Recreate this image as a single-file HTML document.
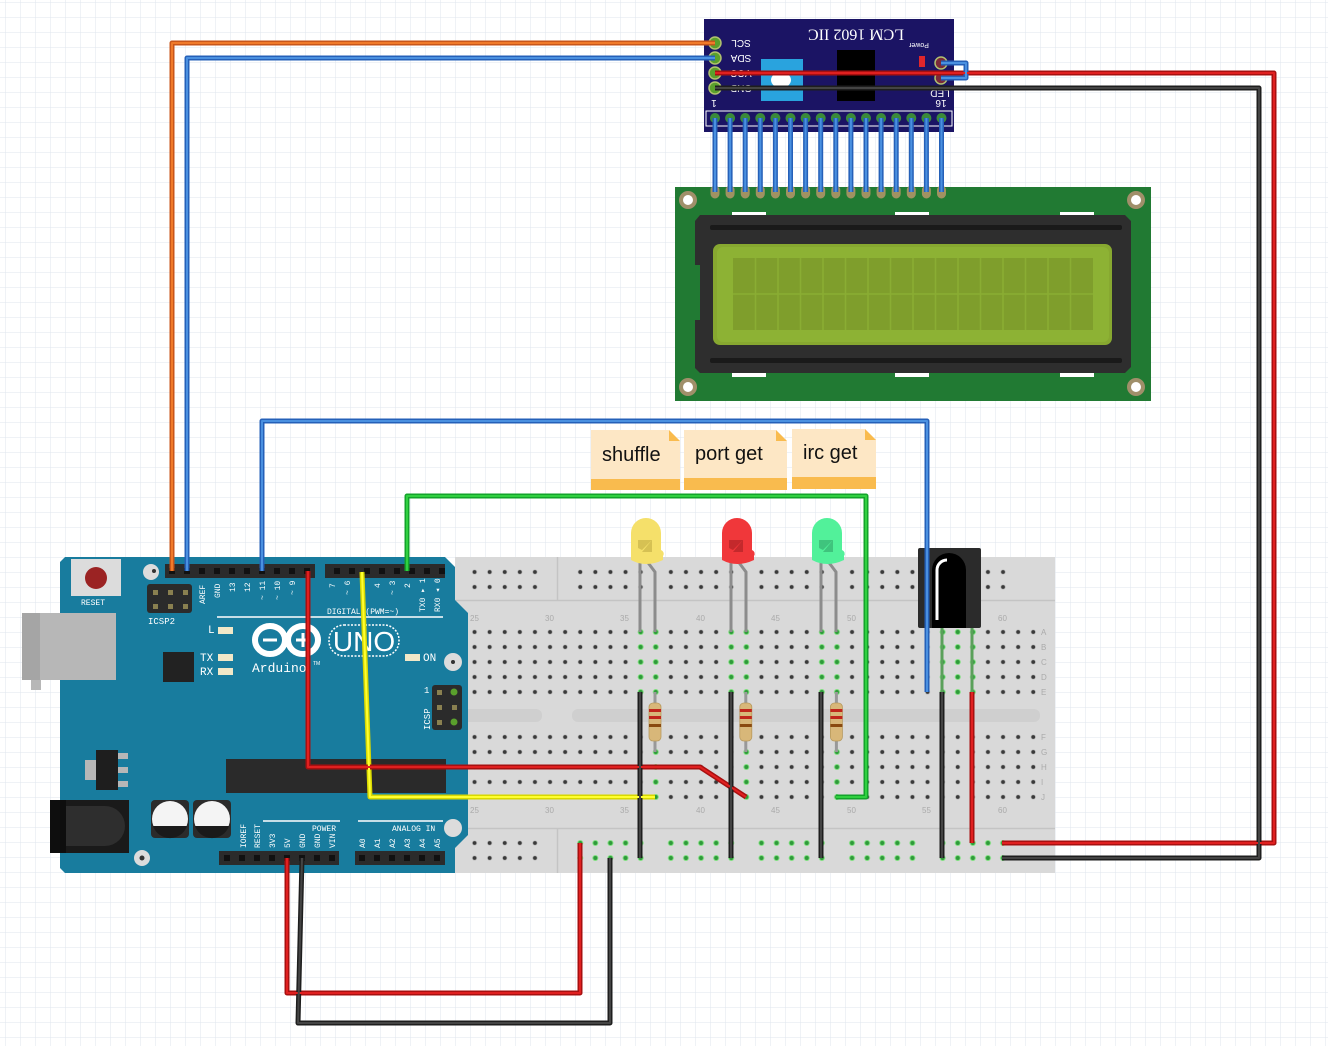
<!DOCTYPE html>
<html><head><meta charset="utf-8"><style>html,body{margin:0;padding:0;background:#fff}svg{display:block}</style></head>
<body>
<svg width="1328" height="1046" viewBox="0 0 1328 1046" xmlns="http://www.w3.org/2000/svg" font-family="Liberation Sans, sans-serif">
<defs>
<pattern id="grid" x="6" y="3" width="15" height="15" patternUnits="userSpaceOnUse">
<path d="M15 0V15M0 15H15" stroke="#dfe5ee" stroke-width="1" fill="none"/>
</pattern>
<pattern id="holes" x="451.9" y="624.5" width="15.1" height="15" patternUnits="userSpaceOnUse">
<circle cx="7.55" cy="7.5" r="2.6" fill="#bdbdbd"/><circle cx="7.55" cy="7.5" r="1.9" fill="#3a3a3a"/>
</pattern>
<pattern id="gholes" x="451.9" y="624.5" width="15.1" height="15" patternUnits="userSpaceOnUse">
<circle cx="7.55" cy="7.5" r="3" fill="#7ee07e"/><circle cx="7.55" cy="7.5" r="2" fill="#2f9a3a"/>
</pattern>
<pattern id="rholes" x="451.9" y="564.5" width="15.1" height="15" patternUnits="userSpaceOnUse">
<circle cx="7.55" cy="7.5" r="2.6" fill="#bdbdbd"/><circle cx="7.55" cy="7.5" r="1.9" fill="#3a3a3a"/>
</pattern>
<pattern id="rholesB" x="451.9" y="835.5" width="15.1" height="15" patternUnits="userSpaceOnUse">
<circle cx="7.55" cy="7.5" r="2.6" fill="#bdbdbd"/><circle cx="7.55" cy="7.5" r="1.9" fill="#3a3a3a"/>
</pattern>
<pattern id="gholesB" x="451.9" y="835.5" width="15.1" height="15" patternUnits="userSpaceOnUse">
<circle cx="7.55" cy="7.5" r="3" fill="#7ee07e"/><circle cx="7.55" cy="7.5" r="2" fill="#2f9a3a"/>
</pattern>
<pattern id="hpin" x="165" y="564" width="15" height="14" patternUnits="userSpaceOnUse">
<rect x="4" y="4" width="6" height="6" fill="#111"/>
</pattern>
<pattern id="hpinB" x="220" y="851" width="15" height="14" patternUnits="userSpaceOnUse">
<rect x="4" y="4" width="6" height="6" fill="#111"/>
</pattern>
</defs>
<rect width="1328" height="1046" fill="#fff"/>
<rect width="1328" height="1046" fill="url(#grid)"/>

<!-- LCD -->
<rect x="675" y="187" width="476" height="214" fill="#217a33"/>
<rect x="732" y="212" width="34" height="4" fill="#fff"/><rect x="895" y="212" width="34" height="4" fill="#fff"/><rect x="1060" y="212" width="34" height="4" fill="#fff"/>
<rect x="732" y="373" width="34" height="4" fill="#fff"/><rect x="895" y="373" width="34" height="4" fill="#fff"/><rect x="1060" y="373" width="34" height="4" fill="#fff"/>
<path d="M700 215H1125L1131 221V367L1125 373H700L695 368V320L700 320V265L695 265V221Z" fill="#2e2e2e"/>
<rect x="710" y="225" width="412" height="5" rx="2" fill="#1a1a1a"/>
<rect x="710" y="358" width="412" height="5" rx="2" fill="#1a1a1a"/>
<rect x="713" y="244" width="399" height="101" rx="7" fill="#87a830"/>
<rect x="717" y="247" width="392" height="95" rx="6" fill="#8db234"/>
<rect x="733" y="258" width="360" height="72" fill="#7f9e2c"/>
<g stroke="#8aad33" stroke-width="1.6">
<path d="M733 294H1093M755.5 258V330M778 258V330M800.5 258V330M823 258V330M845.5 258V330M868 258V330M890.5 258V330M913 258V330M935.5 258V330M958 258V330M980.5 258V330M1003 258V330M1025.5 258V330M1048 258V330M1070.5 258V330"/>
</g>
<g fill="#fff" stroke="#a08f6a" stroke-width="4">
<circle cx="688" cy="200" r="7"/><circle cx="1136" cy="200" r="7"/><circle cx="688" cy="387" r="7"/><circle cx="1136" cy="387" r="7"/>
</g>

<!-- LCM module -->
<rect x="704" y="19" width="250" height="113" fill="#1b1464"/>
<text x="856" y="33" transform="rotate(180 856 33)" font-size="16" fill="#fff" text-anchor="middle" dominant-baseline="middle" font-family="Liberation Serif, serif">LCM 1602 IIC</text>
<g fill="#fff" font-size="10" text-anchor="middle">
<text transform="rotate(180 741 44)" x="741" y="48">SCL</text>
<text transform="rotate(180 741 59)" x="741" y="63">SDA</text>
<text transform="rotate(180 741 74)" x="741" y="78">VCC</text>
<text transform="rotate(180 741 89)" x="741" y="93">GND</text>
<text transform="rotate(180 919 46)" x="919" y="49" font-size="7">Power</text>
<text transform="rotate(180 940 94)" x="940" y="98">LED</text>
<text transform="rotate(180 941 104)" x="941" y="108">16</text>
<text transform="rotate(180 714 104)" x="714" y="108">1</text>
</g>
<rect x="761" y="59" width="42" height="42" fill="#29a3de"/>
<ellipse cx="781" cy="80" rx="10" ry="8" fill="#fff"/>
<rect x="837" y="50" width="38" height="51" fill="#000"/>
<rect x="919" y="56" width="6" height="11" fill="#e0262b"/>
<path d="M706 111H952V126H706Z" fill="#1b1464" stroke="#fff" stroke-width="1"/>
<g fill="#5aa02c" stroke="#b0c070" stroke-width="1.5">
<circle cx="715" cy="43" r="6"/><circle cx="715" cy="58" r="6"/><circle cx="715" cy="73" r="6"/><circle cx="715" cy="88" r="6"/>
<circle cx="941" cy="63" r="6" fill="#7a2a3a"/><circle cx="941" cy="78" r="6" fill="#7a2a3a"/>
</g>
<g stroke="#a09262" stroke-width="9" stroke-linecap="round">
<path d="M715 190V194M730.1 190V194M745.2 190V194M760.3 190V194M775.4 190V194M790.5 190V194M805.6 190V194M820.7 190V194M835.8 190V194M850.9 190V194M866 190V194M881.1 190V194M896.2 190V194M911.3 190V194M926.4 190V194M941.5 190V194"/>
</g>
<g stroke="#3a8a3a" stroke-width="10" stroke-linecap="round">
<path d="M715 118V118.1M730.1 118V118.1M745.2 118V118.1M760.3 118V118.1M775.4 118V118.1M790.5 118V118.1M805.6 118V118.1M820.7 118V118.1M835.8 118V118.1M850.9 118V118.1M866 118V118.1M881.1 118V118.1M896.2 118V118.1M911.3 118V118.1M926.4 118V118.1M941.5 118V118.1"/>
</g>
<g stroke="#2560b8" stroke-width="5">
<path d="M715 118V192M730.1 118V192M745.2 118V192M760.3 118V192M775.4 118V192M790.5 118V192M805.6 118V192M820.7 118V192M835.8 118V192M850.9 118V192M866 118V192M881.1 118V192M896.2 118V192M911.3 118V192M926.4 118V192M941.5 118V192"/>
</g>
<g stroke="#4a90e0" stroke-width="2">
<path d="M715 118V192M730.1 118V192M745.2 118V192M760.3 118V192M775.4 118V192M790.5 118V192M805.6 118V192M820.7 118V192M835.8 118V192M850.9 118V192M866 118V192M881.1 118V192M896.2 118V192M911.3 118V192M926.4 118V192M941.5 118V192"/>
</g>

<!-- Breadboard -->
<rect x="455" y="557" width="600" height="316" fill="#d9d9d9"/>
<path d="M455 600.5H1055M455 828.5H1055M557.5 557V600M557.5 828V873" stroke="#c4c4c4" stroke-width="1.5"/>
<rect x="462" y="709" width="80" height="13" rx="6" fill="#cfcfcf"/>
<rect x="572" y="709" width="468" height="13" rx="6" fill="#cfcfcf"/>
<rect x="451.9" y="624.5" width="589" height="75" fill="url(#holes)"/>
<rect x="451.9" y="729.5" width="589" height="75" fill="url(#holes)"/>
<g fill="url(#rholes)">
<rect x="467" y="564.5" width="75.5" height="30"/><rect x="572.4" y="564.5" width="75.5" height="30"/><rect x="663" y="564.5" width="75.5" height="30"/><rect x="753.6" y="564.5" width="75.5" height="30"/><rect x="844.2" y="564.5" width="75.5" height="30"/><rect x="934.8" y="564.5" width="75.5" height="30"/>
</g>
<g fill="url(#rholesB)">
<rect x="467" y="835.5" width="75.5" height="30"/>
</g>
<g fill="url(#gholesB)">
<rect x="572.4" y="835.5" width="75.5" height="30"/><rect x="663" y="835.5" width="75.5" height="30"/><rect x="753.6" y="835.5" width="75.5" height="30"/><rect x="844.2" y="835.5" width="75.5" height="30"/><rect x="934.8" y="835.5" width="75.5" height="30"/>
</g>
<g fill="url(#gholes)">
<rect x="632.5" y="624.5" width="30.2" height="75"/><rect x="723.1" y="624.5" width="30.2" height="75"/><rect x="813.7" y="624.5" width="30.2" height="75"/>
<rect x="934.8" y="624.5" width="45.3" height="75"/>
<rect x="647.6" y="729.5" width="15.1" height="75"/><rect x="738.2" y="729.5" width="15.1" height="75"/><rect x="828.8" y="729.5" width="15.1" height="75"/>
</g>
<g font-size="8" fill="#aaa">
<text x="470" y="621">25</text><text x="545" y="621">30</text><text x="620" y="621">35</text><text x="696" y="621">40</text><text x="771" y="621">45</text><text x="847" y="621">50</text><text x="922" y="621">55</text><text x="998" y="621">60</text>
<text x="470" y="813">25</text><text x="545" y="813">30</text><text x="620" y="813">35</text><text x="696" y="813">40</text><text x="771" y="813">45</text><text x="847" y="813">50</text><text x="922" y="813">55</text><text x="998" y="813">60</text>
<text x="1041" y="635">A</text><text x="1041" y="650">B</text><text x="1041" y="665">C</text><text x="1041" y="680">D</text><text x="1041" y="695">E</text>
<text x="1041" y="740">F</text><text x="1041" y="755">G</text><text x="1041" y="770">H</text><text x="1041" y="785">I</text><text x="1041" y="800">J</text>
</g>

<!-- Resistors -->
<g stroke="#999" stroke-width="3"><path d="M655 692V752M745.8 692V752M836.4 692V752"/></g>
<g fill="#d8b779" stroke="#b89a5e" stroke-width="0.8">
<rect x="649" y="703" width="12" height="38" rx="4"/><rect x="739.8" y="703" width="12" height="38" rx="4"/><rect x="830.4" y="703" width="12" height="38" rx="4"/>
</g>
<g fill="#c0261c"><rect x="649" y="709" width="12" height="3"/><rect x="649" y="716" width="12" height="3"/><rect x="739.8" y="709" width="12" height="3"/><rect x="739.8" y="716" width="12" height="3"/><rect x="830.4" y="709" width="12" height="3"/><rect x="830.4" y="716" width="12" height="3"/></g>
<g fill="#8a4a10"><rect x="649" y="724" width="12" height="3"/><rect x="739.8" y="724" width="12" height="3"/><rect x="830.4" y="724" width="12" height="3"/></g>

<!-- LED legs -->
<g stroke="#8c8c8c" stroke-width="3" fill="none">
<path d="M640 560V632M646 560L655 572V632"/>
<path d="M731 560V632M737 560L746 572V632"/>
<path d="M821 560V632M827 560L836 572V632"/>
</g>
<path d="M631 560V533A15 15 0 0 1 661 533V550A4 4 0 0 1 663 556V560Q646 568 631 560Z" fill="#f5e06a"/>
<path d="M638 548V540H652L642 550Z M652 540V552H642Z" fill="#c9b34a" opacity="0.7"/>
<path d="M722 560V533A15 15 0 0 1 752 533V550A4 4 0 0 1 754 556V560Q737 568 722 560Z" fill="#f0373a"/>
<path d="M729 548V540H743L733 550Z M743 540V552H733Z" fill="#b02426" opacity="0.7"/>
<path d="M812 560V533A15 15 0 0 1 842 533V550A4 4 0 0 1 844 556V560Q827 568 812 560Z" fill="#52f19a"/>
<path d="M819 548V540H833L823 550Z M833 540V552H823Z" fill="#38b070" opacity="0.7"/>

<!-- IR receiver -->
<g stroke="#5aa05a" stroke-width="3"><path d="M942 628V692M972 628V692"/></g>
<rect x="918" y="548" width="63" height="80" rx="2" fill="#2b2b2b"/>
<path d="M932 628V570A17 17 0 0 1 966 570V628Z" fill="#000"/>
<path d="M937 620V570A10 10 0 0 1 947 560" stroke="#fff" stroke-width="3" fill="none"/>

<!-- Arduino -->
<path d="M65 557H445L455 567V600L468 613V835L455 848V873H65L60 868V562Z" fill="#187c9e"/>
<rect x="22" y="613" width="94" height="67" fill="#b7b7b7"/>
<rect x="22" y="613" width="18" height="67" fill="#a5a5a5"/>
<rect x="31" y="680" width="10" height="10" fill="#b7b7b7"/>
<rect x="71" y="559" width="50" height="37" fill="#dcdcdc"/>
<circle cx="96" cy="578" r="11" fill="#9b2323"/>
<text x="81" y="605" font-size="8" fill="#fff" font-family="Liberation Mono, monospace">RESET</text>
<circle cx="151" cy="572" r="8" fill="#dcdcdc"/><circle cx="154" cy="571" r="2" fill="#333"/>
<rect x="147" y="584" width="45" height="29" rx="3" fill="#2b2b2b"/>
<g fill="#8a8050"><rect x="153" y="590" width="5" height="5"/><rect x="168" y="590" width="5" height="5"/><rect x="183" y="590" width="5" height="5"/><rect x="153" y="604" width="5" height="5"/><rect x="168" y="604" width="5" height="5"/><rect x="183" y="604" width="5" height="5"/></g>
<text x="148" y="624" font-size="9" fill="#fff" font-family="Liberation Mono, monospace">ICSP2</text>
<rect x="163" y="652" width="31" height="30" fill="#222"/>
<rect x="165" y="564" width="150" height="14" fill="#2b2b2b"/>
<rect x="165" y="564" width="150" height="14" fill="url(#hpin)"/>
<rect x="325" y="564" width="120" height="14" fill="#2b2b2b"/>
<rect x="325" y="564" width="120" height="14" fill="url(#hpin)"/>
<g font-size="8" fill="#fff" font-family="Liberation Mono, monospace">
<text transform="translate(205 604) rotate(-90)">AREF</text>
<text transform="translate(220 598) rotate(-90)">GND</text>
<text transform="translate(235 592) rotate(-90)">13</text>
<text transform="translate(250 592) rotate(-90)">12</text>
<text transform="translate(265 600) rotate(-90)">~ 11</text>
<text transform="translate(280 600) rotate(-90)">~ 10</text>
<text transform="translate(295 595) rotate(-90)">~ 9</text>
<text transform="translate(335 588) rotate(-90)">7</text>
<text transform="translate(350 595) rotate(-90)">~ 6</text>
<text transform="translate(380 588) rotate(-90)">4</text>
<text transform="translate(395 595) rotate(-90)">~ 3</text>
<text transform="translate(410 588) rotate(-90)">2</text>
<text transform="translate(425 612) rotate(-90)">TX0 ▸ 1</text>
<text transform="translate(440 612) rotate(-90)">RX0 ◂ 0</text>
<text x="327" y="614">DIGITAL (PWM=~)</text>
<text transform="translate(246 848) rotate(-90)">IOREF</text>
<text transform="translate(260 848) rotate(-90)">RESET</text>
<text transform="translate(275 848) rotate(-90)">3V3</text>
<text transform="translate(290 848) rotate(-90)">5V</text>
<text transform="translate(305 848) rotate(-90)">GND</text>
<text transform="translate(320 848) rotate(-90)">GND</text>
<text transform="translate(335 848) rotate(-90)">VIN</text>
<text x="312" y="831">POWER</text>
<text x="392" y="831">ANALOG IN</text>
<text transform="translate(365 848) rotate(-90)">A0</text>
<text transform="translate(380 848) rotate(-90)">A1</text>
<text transform="translate(395 848) rotate(-90)">A2</text>
<text transform="translate(410 848) rotate(-90)">A3</text>
<text transform="translate(425 848) rotate(-90)">A4</text>
<text transform="translate(440 848) rotate(-90)">A5</text>
</g>
<path d="M217 617H443M263 821H340M358 821H443" stroke="#fff" stroke-width="1.5"/>
<g font-size="11" fill="#fff" font-family="Liberation Mono, monospace">
<text x="208" y="633">L</text><text x="200" y="661">TX</text><text x="200" y="675">RX</text><text x="423" y="661">ON</text>
<text x="424" y="693" font-size="9">1</text>
</g>
<g fill="#f1e8c8"><rect x="218" y="627" width="15" height="7"/><rect x="218" y="654" width="15" height="7"/><rect x="218" y="668" width="15" height="7"/><rect x="405" y="654" width="15" height="7"/></g>
<g fill="none" stroke="#fff" stroke-width="6">
<ellipse cx="270" cy="640" rx="15" ry="14"/><ellipse cx="303" cy="640" rx="15" ry="14"/>
</g>
<path d="M263 640H277M296 640H310M303 633V647" stroke="#fff" stroke-width="3"/>
<rect x="329" y="625" width="70" height="31" rx="15" fill="none" stroke="#fff" stroke-width="1.5" stroke-dasharray="2 1.5"/>
<text x="364" y="651" font-size="28" fill="#fff" text-anchor="middle">UNO</text>
<text x="252" y="672" font-size="13" fill="#fff" font-family="Liberation Mono, monospace">Arduino</text>
<text x="313" y="665" font-size="5" fill="#fff">TM</text>
<circle cx="453" cy="662" r="9" fill="#dcdcdc"/><circle cx="453" cy="662" r="2" fill="#333"/>
<circle cx="453" cy="828" r="9" fill="#dcdcdc"/>
<circle cx="142" cy="858" r="8" fill="#dcdcdc"/><circle cx="142" cy="858" r="2.5" fill="#333"/>
<rect x="432" y="685" width="30" height="45" rx="3" fill="#2b2b2b"/>
<g fill="#8a8050"><rect x="437" y="690" width="5" height="5"/><rect x="437" y="705" width="5" height="5"/><rect x="437" y="720" width="5" height="5"/><rect x="452" y="705" width="5" height="5"/></g>
<g fill="#5aa02c"><circle cx="454" cy="692" r="3.5"/><circle cx="454" cy="722" r="3.5"/></g>
<text transform="translate(430 730) rotate(-90)" font-size="9" fill="#fff" font-family="Liberation Mono, monospace">ICSP</text>
<rect x="226" y="759" width="220" height="34" fill="#2a2a2a"/>
<rect x="85" y="760" width="12" height="20" fill="#b7b7b7"/>
<rect x="96" y="750" width="22" height="40" fill="#1e1e1e"/>
<g fill="#b7b7b7"><rect x="118" y="753" width="10" height="6"/><rect x="118" y="767" width="10" height="6"/><rect x="118" y="781" width="10" height="6"/></g>
<rect x="151" y="800" width="38" height="38" rx="4" fill="#2b2b2b"/><rect x="193" y="800" width="38" height="38" rx="4" fill="#2b2b2b"/>
<circle cx="170" cy="819" r="18" fill="#f4f4f4"/><circle cx="212" cy="819" r="18" fill="#f4f4f4"/>
<path d="M153 826H187A18 18 0 0 1 153 826Z" fill="#1a1a1a"/><path d="M195 826H229A18 18 0 0 1 195 826Z" fill="#1a1a1a"/>
<rect x="50" y="800" width="79" height="53" fill="#1a1a1a"/>
<rect x="50" y="800" width="16" height="53" fill="#0e0e0e"/>
<path d="M66 806H105A20 20 0 0 1 105 846H66Z" fill="#2e2e2e"/>
<rect x="219" y="851" width="120" height="14" fill="#2b2b2b"/>
<rect x="219" y="851" width="120" height="14" fill="url(#hpinB)"/>
<rect x="355" y="851" width="90" height="14" fill="#2b2b2b"/>
<rect x="355" y="851" width="90" height="14" fill="url(#hpinB)"/>

<!-- Wires -->
<g fill="none" stroke-linejoin="round">
<g stroke-width="5">
<path d="M172 571V43H715" stroke="#c8561a"/>
<path d="M187 571V58H715" stroke="#2560b8"/>
<path d="M262 571V421H927V692" stroke="#2560b8"/>
<path d="M407 571V496H866V797H836" stroke="#13a32b"/>
<path d="M362 572L370 797H655" stroke="#d8d800"/>
<path d="M308 571V767H700L746 797" stroke="#a81010"/>
<path d="M715 73H1274V843H1002" stroke="#a81010"/>
<path d="M715 88H1259V858H1002" stroke="#1e1e1e"/>
<path d="M941 63H966V78H941" stroke="#2560b8"/>
<path d="M287 858V993H580V843" stroke="#a81010"/>
<path d="M302 858L298 1023H610V858" stroke="#1e1e1e"/>
<path d="M640 692V858M731 692V858M821 692V858M942 692V858" stroke="#1e1e1e"/>
<path d="M972 692V843" stroke="#a81010"/>
</g>
<g stroke-width="2">
<path d="M172 571V43H715" stroke="#f07a2a"/>
<path d="M187 571V58H715" stroke="#4a90e0"/>
<path d="M262 571V421H927V692" stroke="#4a90e0"/>
<path d="M407 571V496H866V797H836" stroke="#30d040"/>
<path d="M362 572L370 797H655" stroke="#ffff30"/>
<path d="M308 571V767H700L746 797" stroke="#e02020"/>
<path d="M715 73H1274V843H1002" stroke="#e02020"/>
<path d="M715 88H1259V858H1002" stroke="#444"/>
<path d="M941 63H966V78H941" stroke="#4a90e0"/>
<path d="M287 858V993H580V843" stroke="#e02020"/>
<path d="M302 858L298 1023H610V858" stroke="#444"/>
<path d="M640 692V858M731 692V858M821 692V858M942 692V858" stroke="#444"/>
<path d="M972 692V843" stroke="#e02020"/>
</g>
</g>

<!-- Notes -->
<g font-size="20" fill="#111">
<path d="M591 430H669L680 441V490H591Z" fill="#fde7c5"/><rect x="591" y="479" width="89" height="11" fill="#f9bb4e"/><path d="M669 430L680 441H669Z" fill="#f9bb4e"/>
<text x="602" y="461">shuffle</text>
<path d="M684 430H776L787 441V490H684Z" fill="#fde7c5"/><rect x="684" y="478" width="103" height="12" fill="#f9bb4e"/><path d="M776 430L787 441H776Z" fill="#f9bb4e"/>
<text x="695" y="460">port get</text>
<path d="M792 429H865L876 440V489H792Z" fill="#fde7c5"/><rect x="792" y="477" width="84" height="12" fill="#f9bb4e"/><path d="M865 429L876 440H865Z" fill="#f9bb4e"/>
<text x="803" y="459">irc get</text>
</g>
</svg>
</body></html>
